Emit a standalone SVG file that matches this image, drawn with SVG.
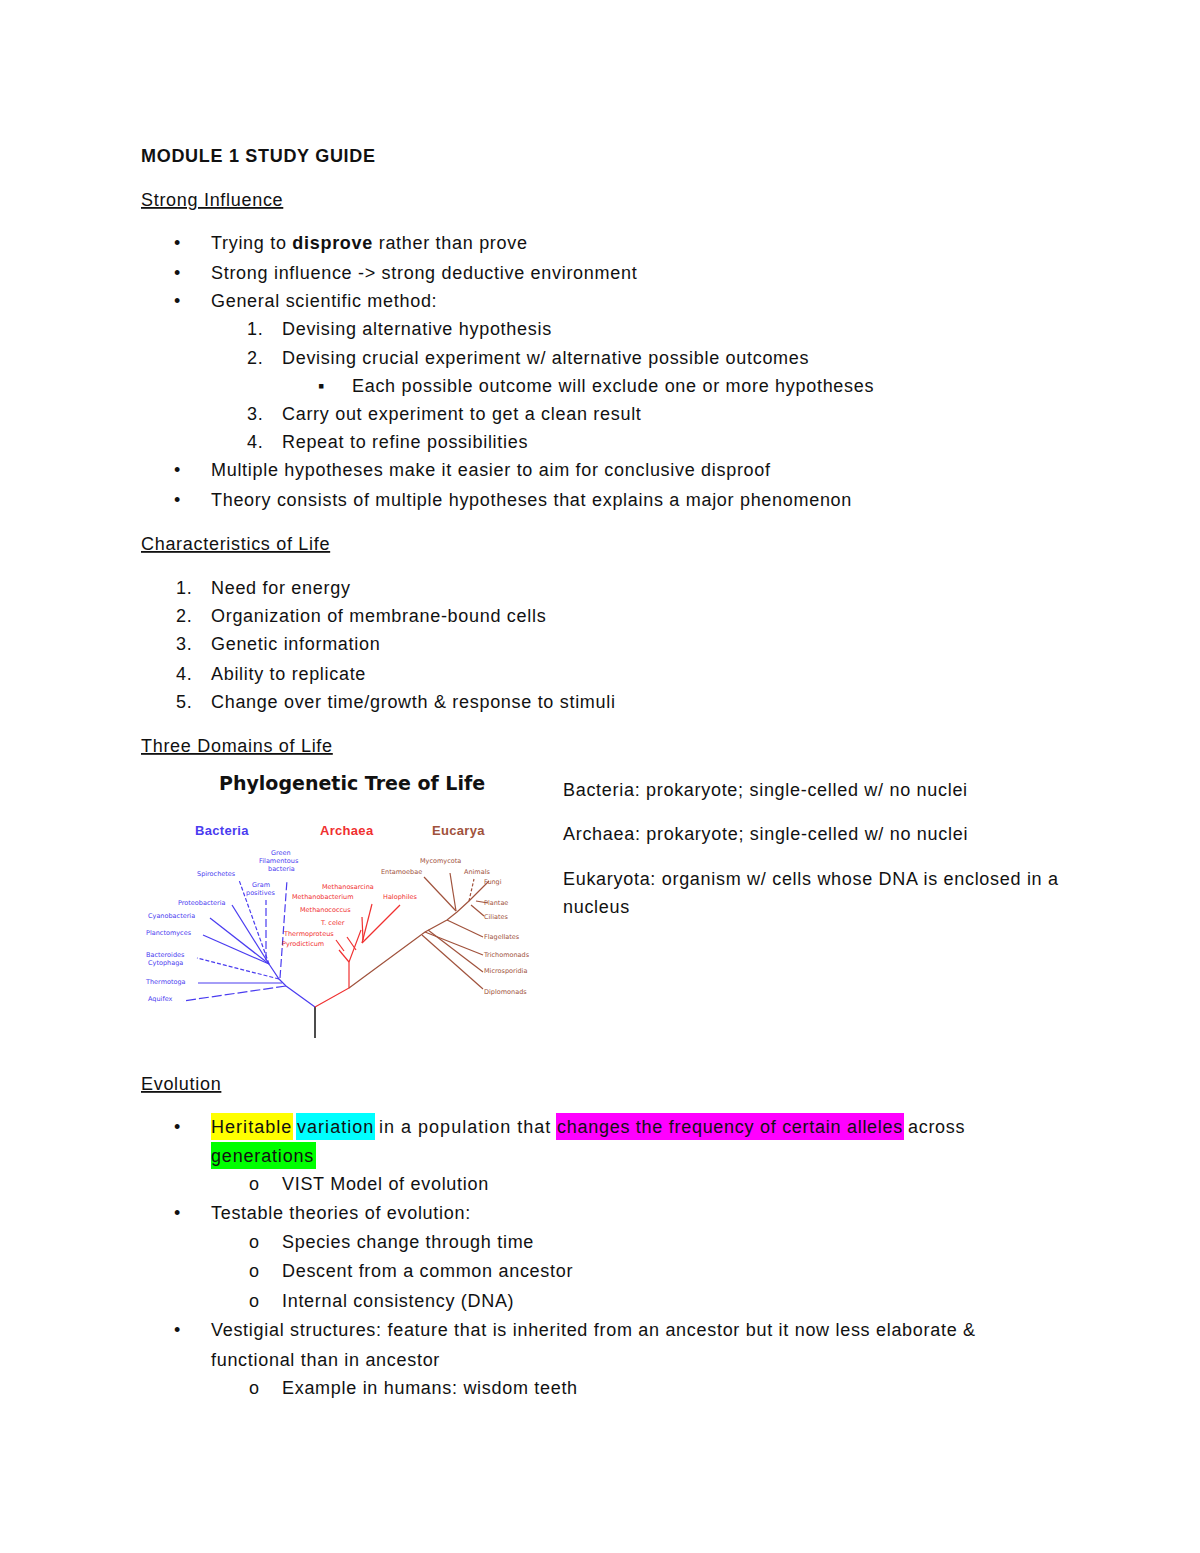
<svg xmlns="http://www.w3.org/2000/svg" width="1200" height="1553" viewBox="0 0 1200 1553">
<style>
text{font-family:"Liberation Sans",Arial,sans-serif;font-size:18px;fill:#111;letter-spacing:0.7px}
.b{font-weight:bold}
.u{text-decoration:underline}
g.t text{font-size:6.5px;font-family:"DejaVu Sans",sans-serif;letter-spacing:0}
text.bl,g.bl text{fill:#4a3cf0}text.rd,g.rd text{fill:#f03030}text.br,g.br text{fill:#a0523c}
.lb{stroke:#4a3cf0;fill:none;stroke-width:1.2}
.lr{stroke:#f03030;fill:none;stroke-width:1.2}
.lbr{stroke:#a0523c;fill:none;stroke-width:1.2}
</style>
<rect width="1200" height="1553" fill="#fff"/>
<text x="141" y="162" class="b">MODULE 1 STUDY GUIDE</text>
<text x="141" y="206" class="u">Strong Influence</text>
<g>
<text x="174" y="249">•</text><text x="211" y="249">Trying to <tspan class="b">disprove</tspan> rather than prove</text>
<text x="174" y="279">•</text><text x="211" y="279">Strong influence -&gt; strong deductive environment</text>
<text x="174" y="307">•</text><text x="211" y="307">General scientific method:</text>
<text x="247" y="335">1.</text><text x="282" y="335">Devising alternative hypothesis</text>
<text x="247" y="364">2.</text><text x="282" y="364">Devising crucial experiment w/ alternative possible outcomes</text>
<text x="318" y="392">▪</text><text x="352" y="392">Each possible outcome will exclude one or more hypotheses</text>
<text x="247" y="420">3.</text><text x="282" y="420">Carry out experiment to get a clean result</text>
<text x="247" y="448">4.</text><text x="282" y="448">Repeat to refine possibilities</text>
<text x="174" y="476">•</text><text x="211" y="476">Multiple hypotheses make it easier to aim for conclusive disproof</text>
<text x="174" y="506">•</text><text x="211" y="506">Theory consists of multiple hypotheses that explains a major phenomenon</text>
</g>
<text x="141" y="550" class="u">Characteristics of Life</text>
<text x="176" y="594">1.</text><text x="211" y="594">Need for energy</text>
<text x="176" y="622">2.</text><text x="211" y="622">Organization of membrane-bound cells</text>
<text x="176" y="650">3.</text><text x="211" y="650">Genetic information</text>
<text x="176" y="680">4.</text><text x="211" y="680">Ability to replicate</text>
<text x="176" y="708">5.</text><text x="211" y="708">Change over time/growth &amp; response to stimuli</text>
<text x="141" y="752" class="u">Three Domains of Life</text>

<g id="tree">
<text x="219" y="790" class="b" style="font-family:'DejaVu Sans',sans-serif;font-size:19px;letter-spacing:0">Phylogenetic Tree of Life</text>
<text x="195" y="835" class="b bl" style="font-size:13px;letter-spacing:0.3px">Bacteria</text>
<text x="320" y="835" class="b rd" style="font-size:13px;letter-spacing:0.3px">Archaea</text>
<text x="432" y="835" class="b br" style="font-size:13px;letter-spacing:0.3px">Eucarya</text>
<g id="connectors">
<line x1="315" y1="1007" x2="315" y2="1038" stroke="#111" stroke-width="1.5"/>
<polyline class="lb" points="315,1007 286,986 279,979 269,964"/>
<polyline class="lr" points="315,1007 349,988 349,962"/>
<polyline class="lbr" points="349,988 425,932 447,920 457,912 469,901 489,881"/>
<g class="lb">
<line x1="269" y1="964" x2="239" y2="880" stroke-dasharray="4 2"/>
<line x1="269" y1="964" x2="232" y2="905"/>
<line x1="269" y1="964" x2="210" y2="918"/>
<line x1="269" y1="964" x2="203" y2="935"/>
<line x1="279" y1="979" x2="197" y2="958" stroke-dasharray="4 2"/>
<line x1="266" y1="960" x2="266" y2="900" stroke-dasharray="8 3"/>
<line x1="280" y1="978" x2="287" y2="880" stroke-dasharray="8 3"/>
<line x1="282" y1="983" x2="198" y2="983"/>
<line x1="286" y1="986" x2="183" y2="1001" stroke-dasharray="10 3"/>
</g>
<g class="lr">
<line x1="349" y1="962" x2="339" y2="950"/>
<line x1="349" y1="962" x2="361" y2="930"/>
<line x1="356" y1="950" x2="347" y2="937"/>
<line x1="362" y1="943" x2="372" y2="904"/>
<line x1="362" y1="943" x2="400" y2="905"/>
<line x1="363" y1="940" x2="362" y2="917"/>
<line x1="344" y1="951" x2="336" y2="940"/>
</g>
<g class="lbr">
<line x1="456" y1="911" x2="424" y2="877"/>
<line x1="456" y1="911" x2="450" y2="873"/>
<line x1="469" y1="901" x2="474" y2="879" stroke-dasharray="3 2"/>
<line x1="476" y1="901" x2="488" y2="903"/>
<line x1="471" y1="905" x2="484" y2="916"/>
<line x1="447" y1="920" x2="483" y2="937"/>
<line x1="425" y1="932" x2="483" y2="955"/>
<line x1="428" y1="930" x2="483" y2="972"/>
<line x1="422" y1="935" x2="483" y2="989"/>
</g>
</g>
<g class="t bl">
<text x="271" y="855">Green</text><text x="259" y="863">Filamentous</text><text x="268" y="871">bacteria</text>
<text x="197" y="876">Spirochetes</text>
<text x="252" y="887">Gram</text><text x="246" y="895">positives</text>
<text x="178" y="905">Proteobacteria</text>
<text x="148" y="918">Cyanobacteria</text>
<text x="146" y="935">Planctomyces</text>
<text x="146" y="957">Bacteroides</text><text x="148" y="965">Cytophaga</text>
<text x="146" y="984">Thermotoga</text>
<text x="148" y="1001">Aquifex</text>
</g>
<g class="t rd">
<text x="322" y="889">Methanosarcina</text>
<text x="292" y="899">Methanobacterium</text>
<text x="300" y="912">Methanococcus</text>
<text x="321" y="925">T. celer</text>
<text x="284" y="936">Thermoproteus</text>
<text x="282" y="946">Pyrodicticum</text>
<text x="383" y="899">Halophiles</text>
</g>
<g class="t br">
<text x="420" y="863">Mycomycota</text>
<text x="381" y="874">Entamoebae</text>
<text x="464" y="874">Animals</text>
<text x="484" y="884">Fungi</text>
<text x="484" y="905">Plantae</text>
<text x="484" y="919">Ciliates</text>
<text x="484" y="939">Flagellates</text>
<text x="484" y="957">Trichomonads</text>
<text x="484" y="973">Microsporidia</text>
<text x="484" y="994">Diplomonads</text>
</g>
</g>

<text x="563" y="796">Bacteria: prokaryote; single-celled w/ no nuclei</text>
<text x="563" y="840">Archaea: prokaryote; single-celled w/ no nuclei</text>
<text x="563" y="885">Eukaryota: organism w/ cells whose DNA is enclosed in a</text>
<text x="563" y="913">nucleus</text>

<text x="141" y="1090" class="u">Evolution</text>
<rect x="211" y="1113" width="82" height="27" fill="#ffff00"/>
<rect x="296" y="1113" width="79" height="27" fill="#00ffff"/>
<rect x="556" y="1113" width="348" height="27" fill="#ff00ff"/>
<rect x="211" y="1142" width="105" height="27" fill="#00ff00"/>
<text x="174" y="1133">•</text>
<text x="211" y="1133" textLength="81">Heritable</text><text x="297" y="1133" textLength="77">variation</text><text x="379" y="1133" textLength="172">in a population that</text><text x="557" y="1133" textLength="346">changes the frequency of certain alleles</text><text x="908" y="1133">across</text>
<text x="211" y="1162" textLength="103">generations</text>
<text x="249" y="1190">o</text><text x="282" y="1190">VIST Model of evolution</text>
<text x="174" y="1219">•</text><text x="211" y="1219">Testable theories of evolution:</text>
<text x="249" y="1248">o</text><text x="282" y="1248">Species change through time</text>
<text x="249" y="1277">o</text><text x="282" y="1277">Descent from a common ancestor</text>
<text x="249" y="1307">o</text><text x="282" y="1307">Internal consistency (DNA)</text>
<text x="174" y="1336">•</text><text x="211" y="1336">Vestigial structures: feature that is inherited from an ancestor but it now less elaborate &amp;</text>
<text x="211" y="1366">functional than in ancestor</text>
<text x="249" y="1394">o</text><text x="282" y="1394">Example in humans: wisdom teeth</text>
</svg>
